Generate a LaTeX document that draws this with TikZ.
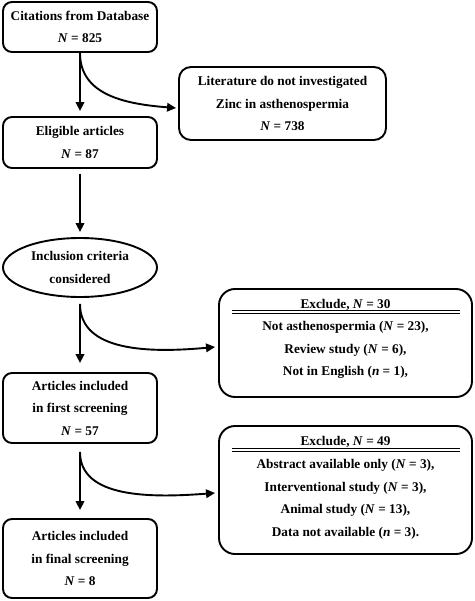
\documentclass[tikz,border=0pt]{standalone}
\usepackage{fontspec}
\setmainfont{Liberation Serif}
\usetikzlibrary{arrows.meta,shapes.geometric,calc}
\begin{document}
\begin{tikzpicture}[x=1pt,y=-1pt,
  txt/.style={font=\fontsize{13.3}{22.5}\selectfont\bfseries,align=center,inner sep=0pt},
  box/.style={txt,draw,line width=1.9pt,rounded corners=9pt,minimum width=154pt},
  exbox/.style={draw,line width=1.9pt,rounded corners=16pt,minimum width=253pt,inner sep=0pt},
  oval/.style={txt,draw,ellipse,line width=1.9pt,minimum width=154pt,minimum height=59pt},
  arr/.style={line width=1.9pt,-{Triangle[length=9pt,width=8.5pt]}},
  rule/.style={line width=1pt,double distance=1.2pt}
]
\useasboundingbox (0,0) rectangle (474,601);
% left column
\node[box,minimum height=50pt] (cit) at (80,27) {Citations from Database\\\textit{N} = 825};
\node[box,minimum height=51pt] (elig) at (80,142.5) {Eligible articles\\\textit{N} = 87};
\node[oval] (incl) at (80,267.5) {Inclusion criteria\\considered};
\node[box,minimum height=70pt] (first) at (80,408) {Articles included\\in first screening\\\textit{N} = 57};
\node[box,minimum height=79pt] (final) at (80,558.5) {Articles included\\in final screening\\\textit{N} = 8};
% right column
\node[box,rounded corners=12pt,minimum width=207pt,minimum height=73pt] (lit) at (282.5,103.5) {Literature do not investigated\\Zinc in asthenospermia\\\textit{N} = 738};
\node[exbox,minimum height=108pt] (ex1) at (345.5,343) {};
\node[txt] (ex1h) at (345.5,305) {Exclude, \textit{N} = 30};
\draw[rule] ([shift={(14,24)}]ex1.north west) -- ([shift={(-13,24)}]ex1.north east);
\node[txt] (ex1l) at (345.5,350) {Not asthenospermia (\textit{N} = 23),\\Review study (\textit{N} = 6),\\Not in English (\textit{n} = 1),};
\node[exbox,minimum height=128pt] (ex2) at (345.5,490) {};
\node[txt] (ex2h) at (345.5,442) {Exclude, \textit{N} = 49};
\draw[rule] ([shift={(14,25)}]ex2.north west) -- ([shift={(-13,25)}]ex2.north east);
\node[txt] (ex2l) at (345.5,499.5) {Abstract available only (\textit{N} = 3),\\Interventional study (\textit{N} = 3),\\Animal study (\textit{N} = 13),\\Data not available (\textit{n} = 3).};
% connectors
\draw[arr,shorten >=5pt] (cit.south) -- (elig.north);
\draw[arr] (cit.south) .. controls (80,95) and (125,104) .. ([shift={(-2,4.5)}]lit.west);
\draw[arr,shorten <=5pt,shorten >=5pt] (elig.south) -- (incl.north);
\draw[arr,shorten <=6pt,shorten >=9pt] (incl.south) -- (first.north);
\draw[arr] ([shift={(0,6)}]incl.south) .. controls (80,352) and (150,353) .. ([shift={(-3,4)}]ex1.west);
\draw[arr,shorten <=8pt,shorten >=8pt] (first.south) -- (final.north);
\draw[arr] ([shift={(0,8)}]first.south) .. controls (80,498) and (150,498) .. ([shift={(-3,3)}]ex2.west);
\end{tikzpicture}
\end{document}
